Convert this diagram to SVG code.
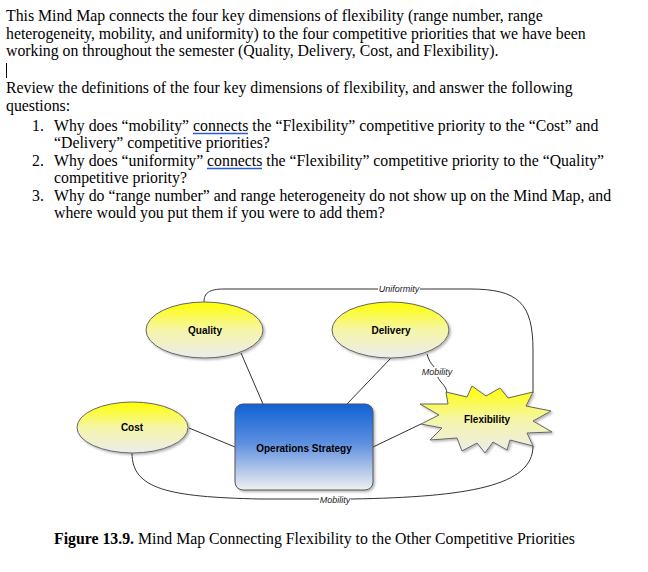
<svg xmlns="http://www.w3.org/2000/svg" width="648" height="572" viewBox="0 0 648 572">
<defs>
<style>
.body{font-family:"Liberation Serif","Times New Roman",serif;font-size:15.8px;fill:#000}
.node{font-family:"Liberation Sans",Arial,sans-serif;font-size:10px;font-weight:bold;fill:#000;text-anchor:middle}
.lbl{font-family:"Liberation Sans",Arial,sans-serif;font-size:9px;font-style:italic;fill:#222;text-anchor:middle}
.conn{fill:none;stroke:#333;stroke-width:1}
.ell{fill:url(#gy);stroke:#666;stroke-width:1;filter:url(#sh)}
.ul{stroke:#2a5bd7;stroke-width:1.4}
</style>
<linearGradient id="gy" x1="0" y1="0" x2="0" y2="1">
<stop offset="0" stop-color="#ffff00"/>
<stop offset="0.5" stop-color="#f5f5a8"/>
<stop offset="1" stop-color="#ececec"/>
</linearGradient>
<linearGradient id="gb" x1="0" y1="0" x2="0" y2="1">
<stop offset="0" stop-color="#0f62d6"/>
<stop offset="0.45" stop-color="#5c8ee0"/>
<stop offset="1" stop-color="#f0f0f0"/>
</linearGradient>
<filter id="sh" x="-10%" y="-10%" width="130%" height="140%">
<feDropShadow dx="1.5" dy="1.5" stdDeviation="1" flood-color="#000" flood-opacity="0.3"/>
</filter>
</defs>
<rect width="648" height="572" fill="#fff"/>

<g id="intro">
<text class="body" x="6" y="21">This Mind Map connects the four key dimensions of flexibility (range number, range</text>
<text class="body" x="6" y="38.5">heterogeneity, mobility, and uniformity) to the four competitive priorities that we have been</text>
<text class="body" x="6" y="56">working on throughout the semester (Quality, Delivery, Cost, and Flexibility).</text>
<line x1="6.5" y1="63" x2="6.5" y2="78" stroke="#000" stroke-width="1"/>
<text class="body" x="6" y="93">Review the definitions of the four key dimensions of flexibility, and answer the following</text>
<text class="body" x="6" y="110.5">questions:</text>
<text class="body" x="32" y="131">1.</text>
<text class="body" x="54" y="131">Why does “mobility” connects the “Flexibility” competitive priority to the “Cost” and</text>
<text class="body" x="54" y="148">“Delivery” competitive priorities?</text>
<text class="body" x="32" y="166">2.</text>
<text class="body" x="54" y="166">Why does “uniformity” connects the “Flexibility” competitive priority to the “Quality”</text>
<text class="body" x="54" y="183">competitive priority?</text>
<text class="body" x="32" y="201">3.</text>
<text class="body" x="54" y="201">Why do “range number” and range heterogeneity do not show up on the Mind Map, and</text>
<text class="body" x="54" y="218">where would you put them if you were to add them?</text>
<line class="ul" x1="193" y1="133.5" x2="248" y2="133.5"/>
<line class="ul" x1="207" y1="168.5" x2="262" y2="168.5"/>
</g>

<g id="connectors">
<path class="conn" d="M204,302 C204,293 209,289 224,289 L470,289 C518,289 533,303 533,350 L533,393"/>
<path class="conn" d="M427,354 C430,366 437,367 437,373 C437,382 447,384 447,394"/>
<path class="conn" d="M132,453 C132,489 168,497 260,499 L352,499 C468,497 533,486 533,446"/>
<line class="conn" x1="241" y1="353" x2="263" y2="404"/>
<line class="conn" x1="391" y1="358" x2="347" y2="404"/>
<line class="conn" x1="189" y1="428" x2="235" y2="447"/>
<line class="conn" x1="373" y1="447" x2="421" y2="424"/>
<rect x="378" y="284" width="42" height="10" fill="#fff"/>
<text class="lbl" x="399" y="292">Uniformity</text>
<rect x="421" y="367" width="32" height="10" fill="#fff"/>
<text class="lbl" x="437" y="375">Mobility</text>
<rect x="319" y="494" width="32" height="10" fill="#fff"/>
<text class="lbl" x="335" y="503">Mobility</text>
</g>

<g id="quality">
<ellipse class="ell" cx="204.5" cy="330" rx="58.5" ry="28"/>
<text class="node" x="205" y="334">Quality</text>
</g>
<g id="delivery">
<ellipse class="ell" cx="390.5" cy="330" rx="58.5" ry="28"/>
<text class="node" x="391" y="334">Delivery</text>
</g>
<g id="cost">
<ellipse class="ell" cx="132.5" cy="427.5" rx="55.5" ry="25.5"/>
<text class="node" x="132" y="431">Cost</text>
</g>
<g id="operations-strategy">
<rect x="235" y="404" width="138" height="86" rx="8" fill="url(#gb)" stroke="#555" stroke-width="1" filter="url(#sh)"/>
<text class="node" x="304" y="452">Operations Strategy</text>
</g>
<g id="flexibility">
<polygon points="420,404 448,404 446,392 467,397 472,386 486,396 500,388 508,398 533,392 526,406 551,411 533,421 552,432 527,433 533,446 510,440 507,450 493,442 485,453 477,443 462,451 457,438 430,440 442,428 421,424 439,415" fill="url(#gy)" stroke="#666" stroke-width="1" stroke-linejoin="miter" filter="url(#sh)"/>
<text class="node" x="487" y="423">Flexibility</text>
</g>

<g id="caption">
<text class="body" x="54" y="544"><tspan font-weight="bold">Figure 13.9.</tspan> Mind Map Connecting Flexibility to the Other Competitive Priorities</text>
</g>
</svg>
